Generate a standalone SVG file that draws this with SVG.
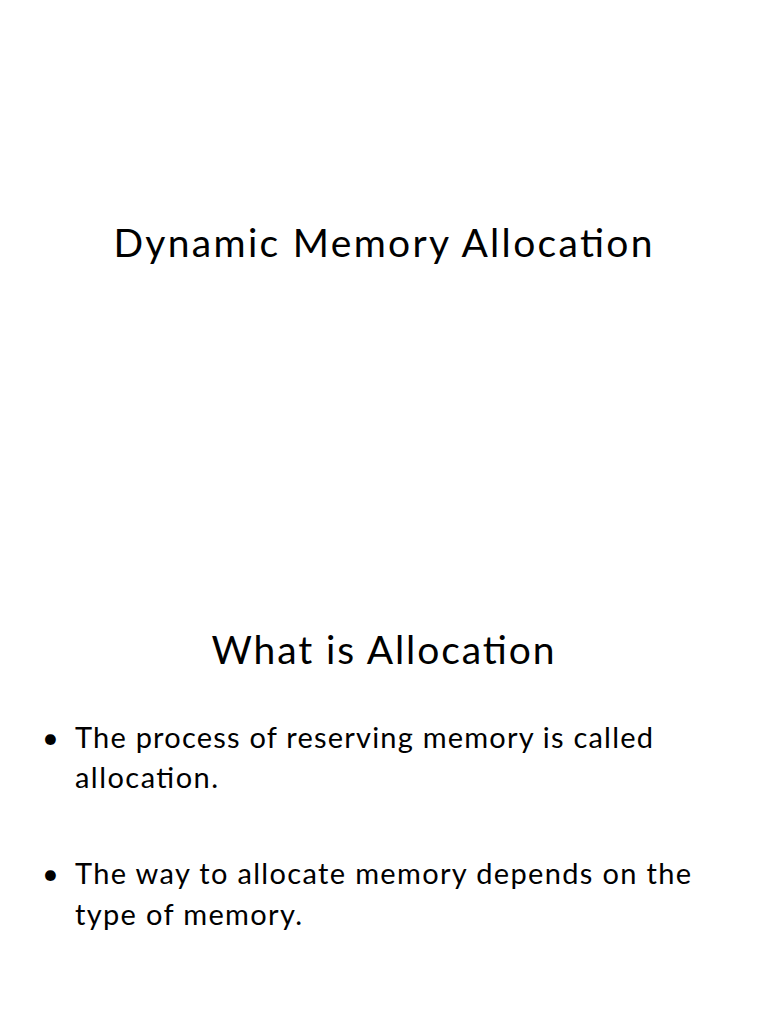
<svg xmlns="http://www.w3.org/2000/svg" width="768" height="1024" viewBox="0 0 768 1024">
<style>
text{font-family:Lato,"Open Sans",sans-serif;fill:#000}
.t{font-size:39px;text-anchor:middle}
.b{font-size:29px}
</style>
<rect width="768" height="1024" fill="#fff"/>
<text class="t" x="383" y="257" textLength="539">Dynamic Memory Allocation</text>
<text class="t" x="383" y="664" textLength="343">What is Allocation</text>
<g class="b">
<text x="42" y="748">•</text>
<text x="75" y="748" textLength="578">The process of reserving memory is called</text>
<text x="75" y="788" textLength="143">allocation.</text>
<text x="42" y="884">•</text>
<text x="75" y="884" textLength="616">The way to allocate memory depends on the</text>
<text x="75" y="925" textLength="227">type of memory.</text>
</g>
</svg>
